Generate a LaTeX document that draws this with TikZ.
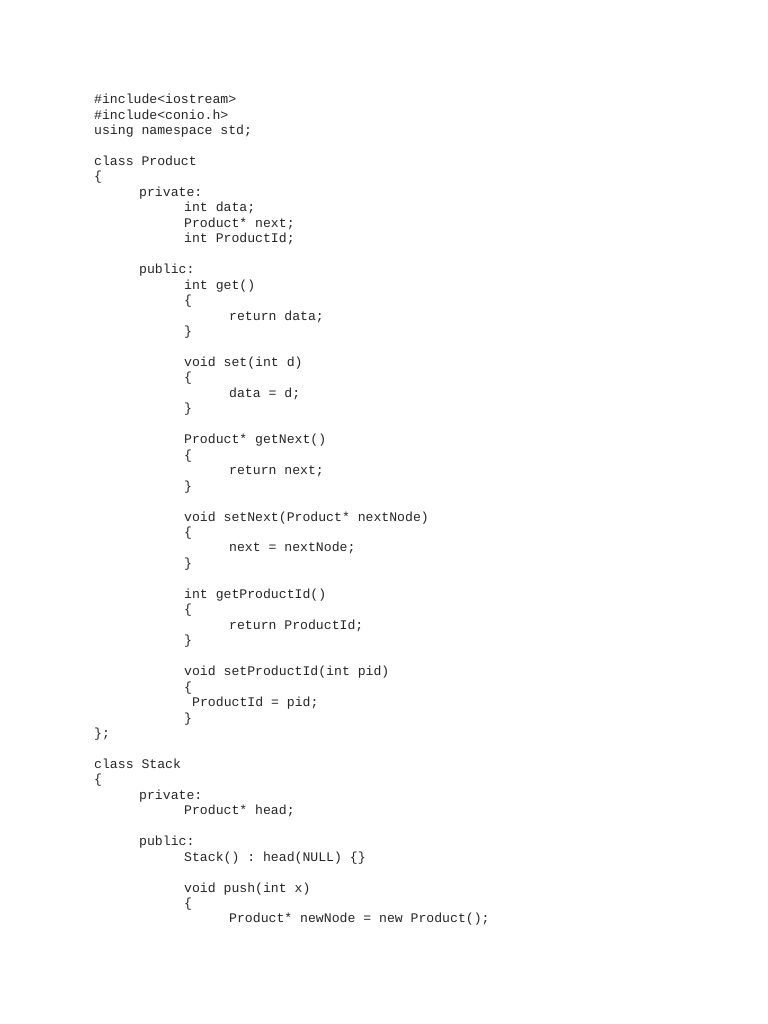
\documentclass[tikz,border=0pt]{standalone}
\usepackage{fontspec}
\setmonofont{Liberation Mono}
\newcommand\codeline[4]{\node[code] (#1) at (#3,{99+(#2-1)*15.46+4.6}) {#4};}
\begin{document}
\begin{tikzpicture}[x=1bp,y=-1bp,
  code/.style={anchor=base west,inner sep=0pt,font=\ttfamily\fontsize{13.15bp}{15bp}\selectfont,text=black!85}]
\useasboundingbox[fill=white] (0,0) rectangle (768,1024);
\codeline{l1}{1}{94}{\#include<iostream>}
\codeline{l2}{2}{94}{\#include<conio.h>}
\codeline{l3}{3}{94}{using namespace std;}
\codeline{l5}{5}{94}{class Product}
\codeline{l6}{6}{94}{\{}
\codeline{l7}{7}{139}{private:}
\codeline{l8}{8}{184}{int data;}
\codeline{l9}{9}{184}{Product* next;}
\codeline{l10}{10}{184}{int ProductId;}
\codeline{l12}{12}{139}{public:}
\codeline{l13}{13}{184}{int get()}
\codeline{l14}{14}{184}{\{}
\codeline{l15}{15}{229}{return data;}
\codeline{l16}{16}{184}{\}}
\codeline{l18}{18}{184}{void set(int d)}
\codeline{l19}{19}{184}{\{}
\codeline{l20}{20}{229}{data = d;}
\codeline{l21}{21}{184}{\}}
\codeline{l23}{23}{184}{Product* getNext()}
\codeline{l24}{24}{184}{\{}
\codeline{l25}{25}{229}{return next;}
\codeline{l26}{26}{184}{\}}
\codeline{l28}{28}{184}{void setNext(Product* nextNode)}
\codeline{l29}{29}{184}{\{}
\codeline{l30}{30}{229}{next = nextNode;}
\codeline{l31}{31}{184}{\}}
\codeline{l33}{33}{184}{int getProductId()}
\codeline{l34}{34}{184}{\{}
\codeline{l35}{35}{229}{return ProductId;}
\codeline{l36}{36}{184}{\}}
\codeline{l38}{38}{184}{void setProductId(int pid)}
\codeline{l39}{39}{184}{\{}
\codeline{l40}{40}{192}{ProductId = pid;}
\codeline{l41}{41}{184}{\}}
\codeline{l42}{42}{94}{\};}
\codeline{l44}{44}{94}{class Stack}
\codeline{l45}{45}{94}{\{}
\codeline{l46}{46}{139}{private:}
\codeline{l47}{47}{184}{Product* head;}
\codeline{l49}{49}{139}{public:}
\codeline{l50}{50}{184}{Stack() : head(NULL) \{\}}
\codeline{l52}{52}{184}{void push(int x)}
\codeline{l53}{53}{184}{\{}
\codeline{l54}{54}{229}{Product* newNode = new Product();}
\end{tikzpicture}
\end{document}
